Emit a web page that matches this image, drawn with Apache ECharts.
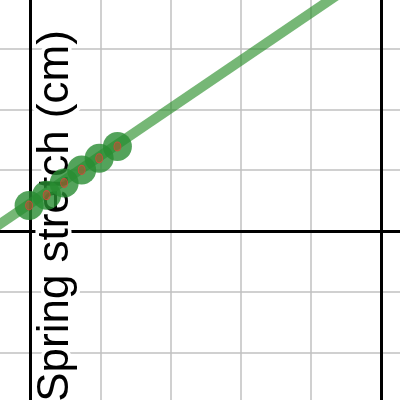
<!DOCTYPE html>
<html>
<head>
<meta charset="utf-8">
<script src="https://cdn.jsdelivr.net/npm/echarts@6/dist/echarts.min.js"></script>
<style>html,body{margin:0;padding:0;background:#fff}#c{width:400px;height:400px}</style>
</head>
<body>
<div id="c"></div>
<script>
// Measured data points (x, spring stretch)
const pointX = [-0.02, 0.23, 0.48, 0.73, 0.98, 1.24];
const pointY = [0.42, 0.59, 0.79, 1.005, 1.196, 1.39];
// Fitted line endpoints
const lineX = [-1, 6];
const lineY = [-0.327, 5.154];
// Vertical reference line position
const refX = [5];
const yLabel = 'Spring stretch (cm)';

const pts = pointX.map((x, i) => [x, pointY[i]]);
const fit = lineX.map((x, i) => [x, lineY[i]]);

const chart = echarts.init(document.getElementById('c'), null, {renderer: 'canvas'});
chart.setOption({
  animation: false,
  backgroundColor: '#fff',
  grid: {left: 0, right: 0, top: 0, bottom: 0, containLabel: false},
  xAxis: {
    type: 'value', min: -0.435, max: 5.271, minInterval: 1, maxInterval: 1,
    axisLine: {show: true, onZero: true, lineStyle: {color: '#000', width: 3}},
    axisTick: {show: false}, axisLabel: {show: false},
    splitLine: {show: true, showMinLine: false, showMaxLine: false, lineStyle: {color: '#c0c0c0', width: 1.5}}
  },
  yAxis: {
    type: 'value', min: -2.78, max: 3.80, minInterval: 1, maxInterval: 1,
    axisLine: {show: true, onZero: true, lineStyle: {color: '#000', width: 3}},
    axisTick: {show: false}, axisLabel: {show: false},
    splitLine: {show: true, showMinLine: false, showMaxLine: false, lineStyle: {color: '#c0c0c0', width: 1.5}}
  },
  graphic: [{
    type: 'text', z: 1, x: 56, y: 216, rotation: Math.PI / 2,
    style: {
      text: yLabel, fontSize: 44, fontFamily: 'Liberation Sans', fill: '#000',
      align: 'center', verticalAlign: 'middle', stroke: '#fff', lineWidth: 7
    }
  }],
  series: [{
    type: 'line', data: fit, showSymbol: false, z: 3, silent: true,
    lineStyle: {color: 'rgba(34,139,34,0.62)', width: 10},
    markLine: {
      silent: true, symbol: 'none', label: {show: false},
      lineStyle: {color: '#000', width: 3, type: 'solid'},
      data: refX.map(v => ({xAxis: v}))
    }
  }, {
    type: 'scatter', data: pts, symbolSize: 29, z: 4, silent: true,
    itemStyle: {color: 'rgba(40,140,50,0.8)', opacity: 1}
  }, {
    type: 'scatter', data: pts, symbolSize: [7, 9], z: 5, silent: true,
    itemStyle: {color: 'rgba(190,80,50,0.55)', borderColor: 'rgba(215,70,60,0.85)', borderWidth: 1, opacity: 1}
  }]
});
</script>
</body>
</html>
